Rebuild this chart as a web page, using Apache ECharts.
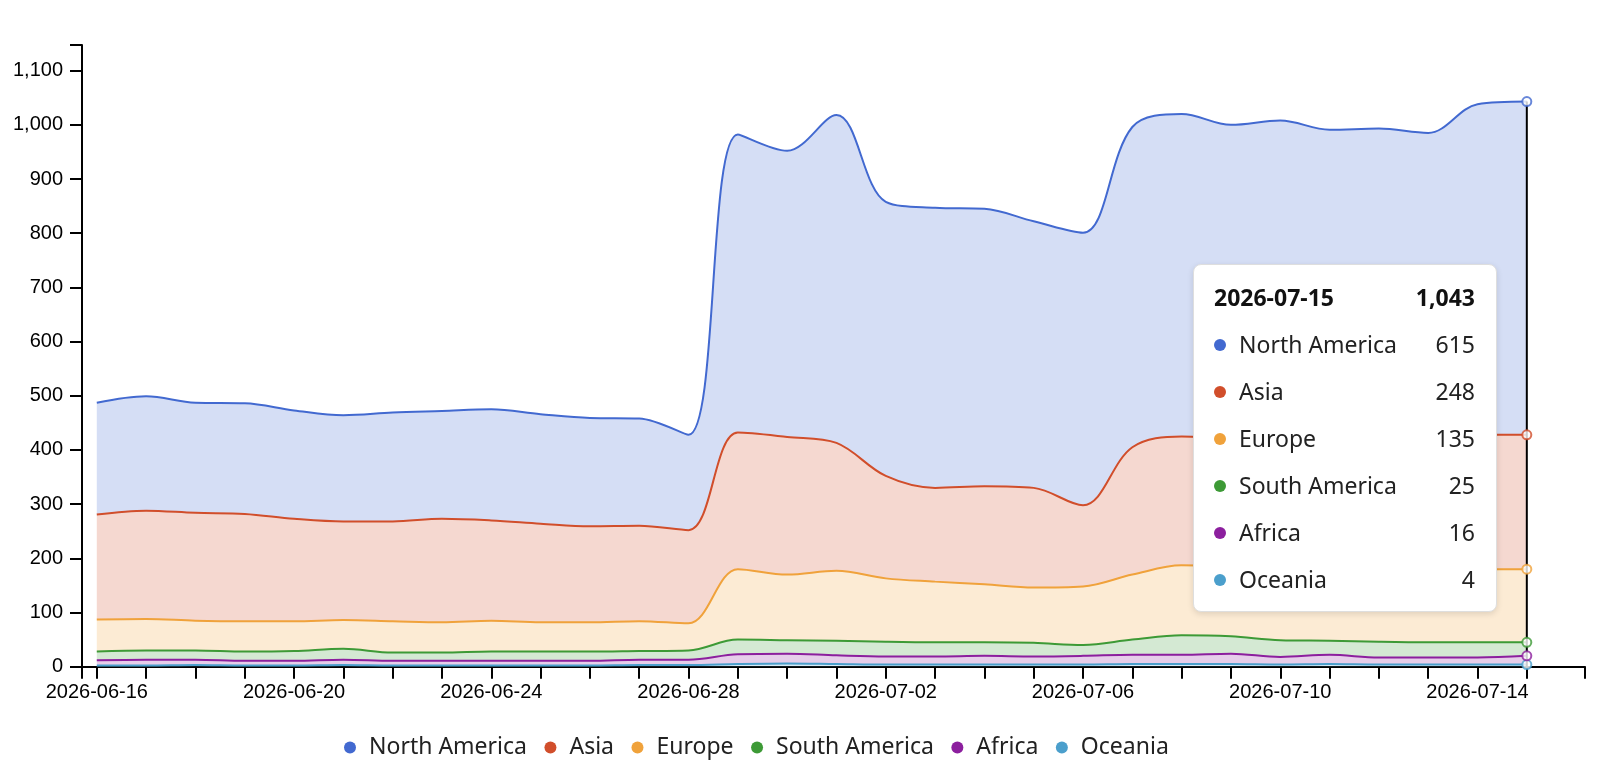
<!DOCTYPE html>
<html>
<head>
<meta charset="utf-8">
<title>Visitors by region</title>
<script src="https://cdn.jsdelivr.net/npm/echarts@6/dist/echarts.min.js"></script>
<style>
  html, body { margin: 0; padding: 0; background: #fff; }
  #chart { width: 1600px; height: 781px; }
</style>
</head>
<body>
<div id="chart"></div>
<script>
// data
const dates = [
    '2026-06-16', '2026-06-17', '2026-06-18', '2026-06-19', '2026-06-20', '2026-06-21',
    '2026-06-22', '2026-06-23', '2026-06-24', '2026-06-25', '2026-06-26', '2026-06-27',
    '2026-06-28', '2026-06-29', '2026-06-30', '2026-07-01', '2026-07-02', '2026-07-03',
    '2026-07-04', '2026-07-05', '2026-07-06', '2026-07-07', '2026-07-08', '2026-07-09',
    '2026-07-10', '2026-07-11', '2026-07-12', '2026-07-13', '2026-07-14', '2026-07-15'
];
const regions = ['North America', 'Asia', 'Europe', 'South America', 'Africa', 'Oceania'];
const colors = ['#4269d0', '#d14e2b', '#f0a23b', '#3d9a36', '#8c1f9e', '#4b9fcc'];

const northAmerica = [206, 211, 203, 204, 200, 196, 201, 199, 205, 202, 200, 198, 176, 550, 528, 605, 506, 517, 512, 492, 503, 591, 595, 578, 583, 573, 573, 569, 610, 615];
const asia = [194, 200, 199, 198, 189, 182, 184, 191, 185, 182, 177, 176, 172, 252, 254, 236, 189, 173, 181, 184, 150, 235, 238, 237, 243, 238, 242, 240, 248, 248];
const europe = [59, 58, 55, 56, 55, 53, 58, 56, 57, 54, 54, 55, 50, 130, 121, 129, 117, 112, 107, 102, 108, 120, 129, 129, 133, 132, 132, 131, 135, 135];
const southAmerica = [16, 17, 17, 17, 18, 20, 15, 15, 17, 17, 17, 16, 17, 27, 25, 27, 27, 26, 25, 25, 20, 28, 36, 32, 31, 26, 29, 28, 28, 25];
const africa = [10, 11, 10, 9, 9, 10, 9, 9, 9, 9, 9, 10, 10, 18, 18, 16, 15, 15, 16, 15, 16, 17, 17, 19, 14, 17, 13, 13, 13, 16];
const oceania = [2, 2, 3, 2, 2, 3, 2, 2, 2, 2, 2, 3, 3, 5, 6, 5, 4, 4, 4, 4, 4, 5, 5, 5, 4, 5, 4, 4, 4, 4];

const xLabelDates = ['2026-06-16', '2026-06-20', '2026-06-24', '2026-06-28', '2026-07-02', '2026-07-06', '2026-07-10', '2026-07-14'];
const yTicks = [0, 100, 200, 300, 400, 500, 600, 700, 800, 900, 1000, 1100];

const seriesValues = [northAmerica, asia, europe, southAmerica, africa, oceania];
const totals = dates.map((d, i) => seriesValues.reduce((s, arr) => s + arr[i], 0));
const last = dates.length - 1;                  // hovered day
const yMax = Math.max(...totals) * 1.1;

// the visible date axis runs a bit past the first and last day
const padStart = 0.3;
const padEnd = 1.18;
const plot = { left: 82, right: 15, top: 45, bottom: 114.3 };
const pxPerDay = (1600 - plot.left - plot.right) / (last + padStart + padEnd);

const fmt = v => v.toLocaleString('en-US');
const axisFont = "'Liberation Sans', Arial, Helvetica, sans-serif";
const uiFont = "'Noto Sans', 'Open Sans', sans-serif";

const chartDom = document.getElementById('chart');
const myChart = echarts.init(chartDom, null, { renderer: 'canvas' });

// stacked areas, bottom layer first (Oceania), top layer North America
const stackOrder = regions.slice().reverse();
const areaSeries = stackOrder.map(name => {
    const k = regions.indexOf(name);
    return {
        name: name,
        type: 'line',
        xAxisIndex: 1,
        yAxisIndex: 1,
        stack: 'total',
        smooth: 0.35,
        symbol: 'none',
        z: 2,
        data: seriesValues[k],
        lineStyle: { color: colors[k], width: 2 },
        itemStyle: { color: colors[k] },
        areaStyle: { color: colors[k], opacity: 0.22 },
        emphasis: { disabled: true }
    };
});

// hollow markers on each stack top at the hovered day
let running = 0;
const markerPoints = stackOrder.map(name => {
    const k = regions.indexOf(name);
    running += seriesValues[k][last];
    return {
        value: [dates[last], running],
        itemStyle: { color: '#fff', borderColor: colors[k], borderWidth: 2 }
    };
});

const axisLineStyle = { color: '#000', width: 2 };

const option = {
    animation: false,
    grid: [
        // visible axes
        { left: plot.left, right: plot.right, top: plot.top, bottom: plot.bottom },
        // data area
        {
            left: plot.left + padStart * pxPerDay,
            right: plot.right + padEnd * pxPerDay,
            top: plot.top,
            bottom: plot.bottom
        }
    ],
    legend: {
        data: regions,
        icon: 'circle',
        left: 339,
        top: 731,
        itemWidth: 28,
        itemHeight: 12,
        itemGap: 17.5,
        selectedMode: false,
        itemStyle: { borderWidth: 0 },
        textStyle: { fontFamily: uiFont, fontSize: 23, color: '#222' }
    },
    tooltip: {
        trigger: 'axis',
        axisPointer: { type: 'none' },
        alwaysShowContent: true,
        transitionDuration: 0,
        position: [1193, 264],
        padding: 0,
        borderWidth: 1,
        borderColor: '#dedede',
        backgroundColor: '#fff',
        textStyle: { fontFamily: uiFont, fontSize: 23, color: '#222' },
        extraCssText: 'width:304px;box-sizing:border-box;border-radius:8px;box-shadow:0 2px 6px rgba(0,0,0,0.12);',
        formatter: function (params) {
            const rows = params.filter(p => regions.includes(p.seriesName));
            const i = rows.length ? rows[0].dataIndex : last;
            let html = '<div style="padding:9px 21px 8px 20px;font-family:' + uiFont.replace(/'/g, '') + ';font-size:23px;line-height:47px;color:#222;">';
            html += '<div style="display:flex;justify-content:space-between;font-weight:700;color:#111;">'
                + '<span>' + dates[i] + '</span><span>' + fmt(totals[i]) + '</span></div>';
            regions.forEach((r, k) => {
                html += '<div style="display:flex;align-items:center;">'
                    + '<span style="display:inline-block;width:12px;height:12px;border-radius:6px;background:' + colors[k] + ';margin-right:13px;"></span>'
                    + '<span style="flex:1;">' + r + '</span>'
                    + '<span>' + fmt(seriesValues[k][i]) + '</span></div>';
            });
            return html + '</div>';
        }
    },
    xAxis: [
        {
            // day-index axis that carries the ticks and date labels
            type: 'value',
            gridIndex: 0,
            min: -padStart,
            max: last + padEnd,
            axisLine: { show: true, onZero: false, lineStyle: axisLineStyle },
            axisTick: {
                show: true,
                length: 12,
                customValues: [-padStart, ...dates.map((d, i) => i), last + padEnd],
                lineStyle: axisLineStyle
            },
            axisLabel: {
                customValues: xLabelDates.map(d => dates.indexOf(d)),
                formatter: v => dates[v] || '',
                fontFamily: axisFont,
                fontSize: 20,
                color: '#000',
                margin: 16
            },
            splitLine: { show: false },
            axisPointer: { show: false }
        },
        {
            type: 'category',
            gridIndex: 1,
            data: dates,
            boundaryGap: false,
            show: false
        }
    ],
    yAxis: [
        {
            type: 'value',
            gridIndex: 0,
            min: 0,
            max: yMax,
            axisLine: { show: true, onZero: false, lineStyle: axisLineStyle },
            axisTick: {
                show: true,
                length: 12,
                customValues: [...yTicks, yMax],
                lineStyle: axisLineStyle
            },
            axisLabel: {
                customValues: yTicks,
                formatter: v => fmt(v),
                fontFamily: axisFont,
                fontSize: 20,
                color: '#000',
                margin: 19
            },
            splitLine: { show: false }
        },
        {
            type: 'value',
            gridIndex: 1,
            min: 0,
            max: yMax,
            show: false,
            splitLine: { show: false }
        }
    ],
    series: [
        ...areaSeries,
        {
            name: 'hover-line',
            type: 'line',
            xAxisIndex: 1,
            yAxisIndex: 1,
            z: 3,
            silent: true,
            symbol: 'none',
            data: [[dates[last], 0], [dates[last], totals[last]]],
            lineStyle: { color: '#000', width: 2 },
            emphasis: { disabled: true }
        },
        {
            name: 'hover-points',
            type: 'scatter',
            xAxisIndex: 1,
            yAxisIndex: 1,
            z: 4,
            silent: true,
            symbol: 'circle',
            symbolSize: 9,
            data: markerPoints,
            emphasis: { disabled: true }
        }
    ]
};

myChart.setOption(option, true);

// open the tooltip on the last day, as in the screenshot
setTimeout(() => {
    myChart.dispatchAction({ type: 'showTip', seriesIndex: stackOrder.length - 1, dataIndex: last });
}, 50);
</script>
</body>
</html>
